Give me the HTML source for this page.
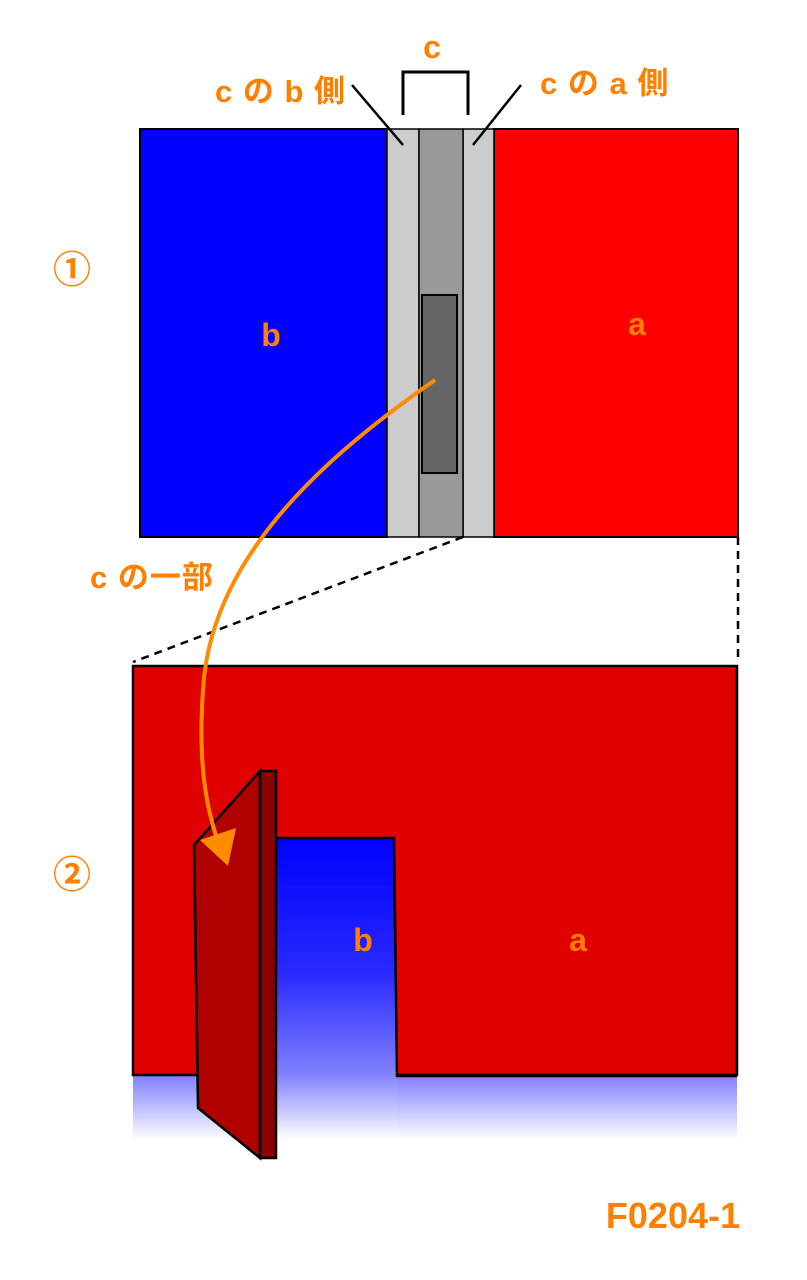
<!DOCTYPE html>
<html><head><meta charset="utf-8"><style>
html,body{margin:0;padding:0;background:#fff}
svg{display:block}
text{font-family:"Liberation Sans","Noto Sans CJK JP",sans-serif;font-weight:bold;fill:#ff8000}
</style></head><body>
<svg width="807" height="1280" viewBox="0 0 807 1280" xmlns="http://www.w3.org/2000/svg">
<defs>
<linearGradient id="bg" gradientUnits="userSpaceOnUse" x1="0" y1="838" x2="0" y2="1140">
<stop offset="0" stop-color="#0000ff"/><stop offset="0.45" stop-color="#2a2aff"/><stop offset="0.78" stop-color="#8080ff"/><stop offset="1" stop-color="#ffffff"/>
</linearGradient>
<linearGradient id="bg2" gradientUnits="userSpaceOnUse" x1="0" y1="1076" x2="0" y2="1140">
<stop offset="0" stop-color="#8080ff"/><stop offset="1" stop-color="#ffffff"/>
</linearGradient>
</defs>
<rect x="140" y="129" width="247" height="408" fill="#0000ff" stroke="#000" stroke-width="2"/>
<rect x="494" y="129" width="244" height="408" fill="#ff0000" stroke="#000" stroke-width="2"/>
<rect x="387" y="129" width="32" height="408" fill="#cccccc" stroke="#000" stroke-width="1.5"/>
<rect x="463" y="129" width="31" height="408" fill="#cccccc" stroke="#000" stroke-width="1.5"/>
<rect x="419" y="129" width="44" height="408" fill="#999999" stroke="#000" stroke-width="1.5"/>
<rect x="422" y="295" width="35" height="178" fill="#666666" stroke="#000" stroke-width="2"/>
<path d="M403,115 V72 H468 V115" fill="none" stroke="#000" stroke-width="3"/>
<line x1="352" y1="85" x2="403" y2="145" stroke="#000" stroke-width="2.5"/>
<line x1="521" y1="85" x2="473" y2="145" stroke="#000" stroke-width="2.5"/>
<line x1="463" y1="537" x2="133" y2="662" stroke="#000" stroke-width="2.5" stroke-dasharray="8,6"/>
<line x1="738" y1="537" x2="738" y2="662" stroke="#000" stroke-width="2.5" stroke-dasharray="8,6"/>
<rect x="133" y="1075" width="604" height="65" fill="url(#bg2)"/>
<rect x="133" y="666" width="604" height="409" fill="#e00000" stroke="#000" stroke-width="2.5"/>
<polygon points="275,838 394,838 397,1076 397,1140 275,1140" fill="url(#bg)"/>
<polyline points="275,838 394,838 397,1076 737,1076" fill="none" stroke="#000" stroke-width="2.5"/>
<polygon points="194,845 260,771 260,1158 198,1108" fill="#b00000" stroke="#000" stroke-width="2.5"/>
<rect x="260" y="771" width="16" height="387" fill="#8b0000" stroke="#000" stroke-width="2.5"/>
<path d="M435,380 C320,460 210,560 203,690 C198,760 205,810 222,852" fill="none" stroke="#ff8c00" stroke-width="4"/>
<polygon points="200,840 236,828 228,866" fill="#ff8c00"/>
<text x="432" y="58" font-size="32" text-anchor="middle">c</text>
<text x="215" y="102" font-size="31" letter-spacing="1">c の b 側</text>
<text x="540" y="94" font-size="31" letter-spacing="1">c の a 側</text>
<text x="90" y="588" font-size="31" letter-spacing="1">c の一部</text>
<text x="72" y="283" font-size="38" text-anchor="middle">①</text>
<text x="72" y="888" font-size="38" text-anchor="middle">②</text>
<text x="271" y="346" font-size="32" text-anchor="middle">b</text>
<text x="637" y="335" font-size="32" text-anchor="middle">a</text>
<text x="363" y="951" font-size="32" text-anchor="middle">b</text>
<text x="578" y="951" font-size="32" text-anchor="middle">a</text>
<text x="740" y="1228" font-size="36" text-anchor="end">F0204-1</text>
</svg>
</body></html>
